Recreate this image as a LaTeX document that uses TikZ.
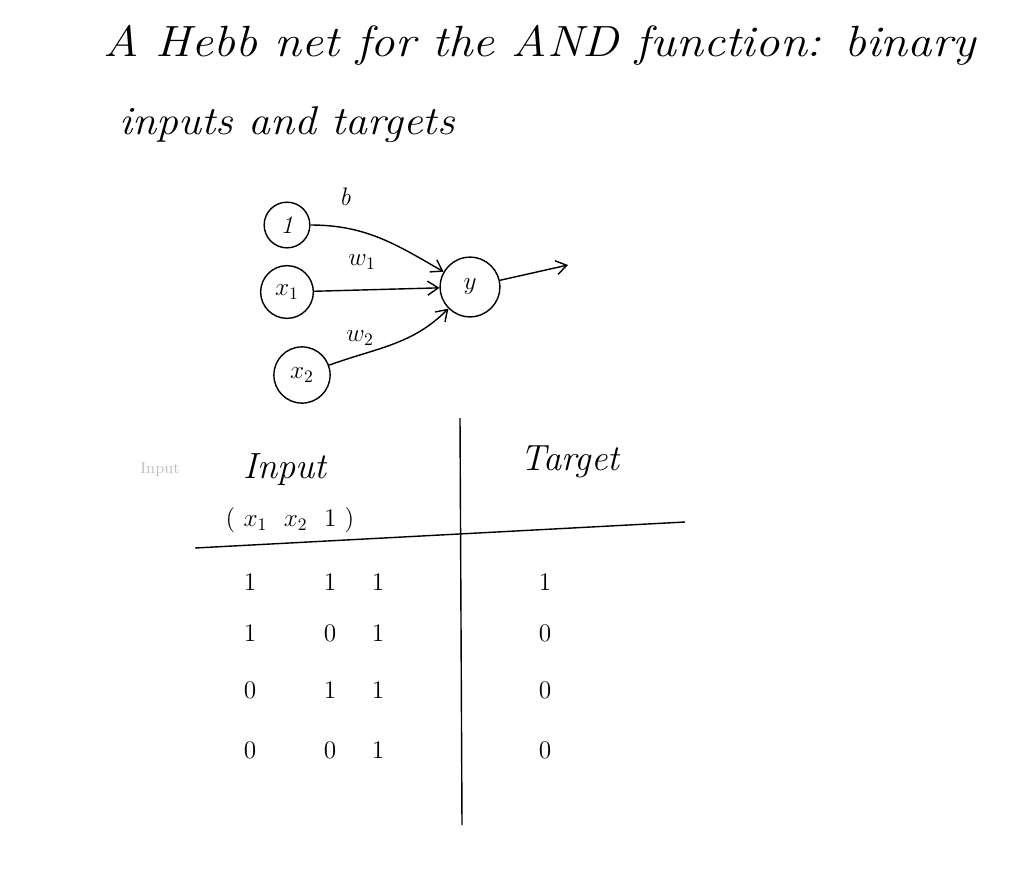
\documentclass[tikz,border=0pt]{standalone}
\usetikzlibrary{arrows.meta}
\begin{document}
\begin{tikzpicture}[x=0.02cm,y=-0.02cm,
  neuron/.style={draw,circle,line width=0.8pt,inner sep=1pt,font=\Large\itshape},
  wire/.style={line width=0.8pt,-{Straight Barb[length=6pt,width=8pt]}},
  hand/.style={font=\huge\itshape},
  cell/.style={font=\Large}]
\useasboundingbox (0,0) rectangle (1024,880);
\node[hand,anchor=west,xscale=1.34,yscale=1.2] (t1) at (95,45) {A Hebb net for the AND function: binary};
\node[hand,anchor=west,xscale=1.2,yscale=1.1] (t2) at (112,125) {inputs and targets};
\node[neuron,minimum size=26pt] (one) at (287,225) {1};
\node[neuron,minimum size=30pt] (x1) at (287,292) {$x_1$};
\node[neuron,minimum size=32pt] (x2) at (302,375) {$x_2$};
\node[neuron,minimum size=34pt] (y) at (470,287) {$y$};
\coordinate (out) at (568,265);
\draw[wire] (one) to[out=0,in=150] (y);
\draw[wire] (x1) -- (y);
\draw[wire] (x2) to[out=20,in=225] (y);
\draw[wire] (y) -- (out);
\node[font=\Large\itshape] (lb) at (345,197) {b};
\node[font=\Large\itshape] (lw1) at (362,262) {$w_1$};
\node[font=\Large\itshape] (lw2) at (360,338) {$w_2$};
\coordinate (vt) at (460,418);
\coordinate (vb) at (462,825);
\draw[line width=0.8pt] (vt) -- (vb);
\coordinate (hl) at (195,548);
\coordinate (hr) at (685,522);
\draw[line width=0.8pt] (hl) -- (hr);
\node[font=\small,text=black!25] (ghost) at (160,470) {Input};
\node[hand] (inp) at (285,470) {Input};
\node[font=\Large] (cols) at (290,520) {( $x_1$\ \ $x_2$\ \ 1 )};
\node[hand] (tg) at (570,462) {Target};
\foreach \r/\y/\a/\b/\c/\d in {1/582/1/1/1/1, 2/633/1/0/1/0, 3/690/0/1/1/0, 4/750/0/0/1/0}{
  \node[cell] (a\r) at (250,\y) {\a};
  \node[cell] (b\r) at (330,\y) {\b};
  \node[cell] (c\r) at (378,\y) {\c};
  \node[cell] (d\r) at (545,\y) {\d};
}
\end{tikzpicture}
\end{document}
